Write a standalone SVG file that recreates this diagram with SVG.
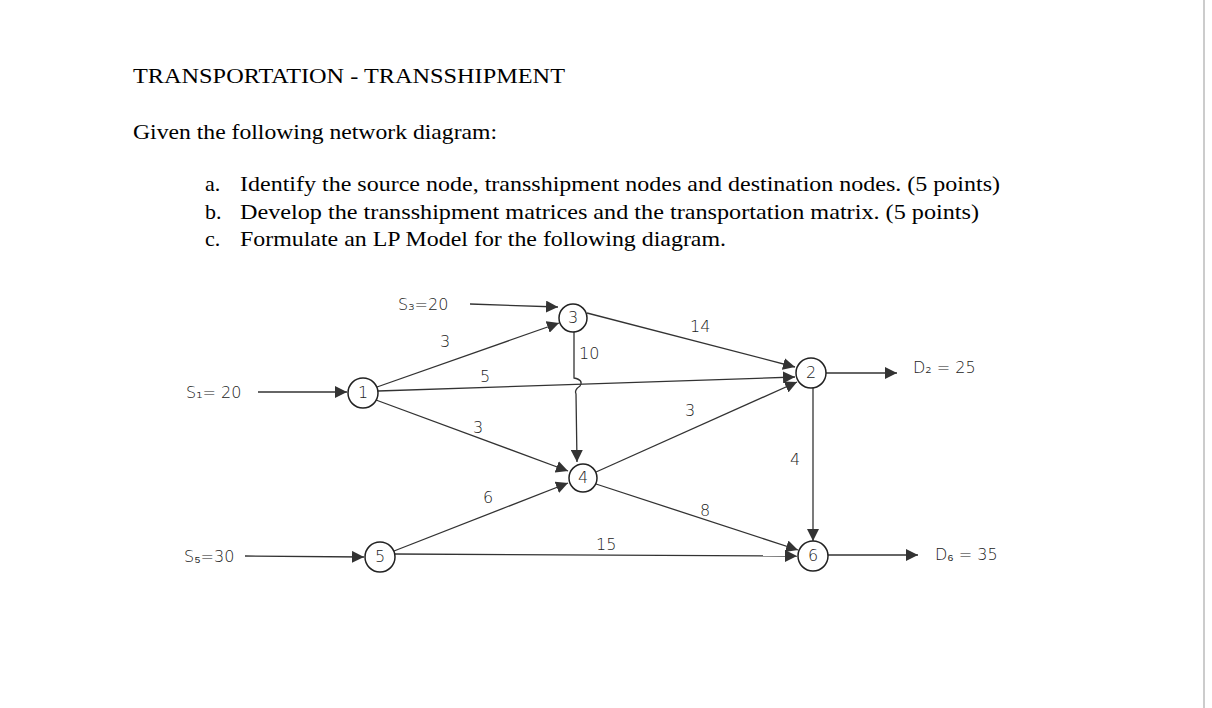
<svg xmlns="http://www.w3.org/2000/svg" width="1212" height="708" viewBox="0 0 1212 708">
<defs>
<style>
.t{font-family:"Liberation Serif",serif;font-size:22px;fill:#000}
.h{font-family:"DejaVu Sans",sans-serif;font-size:16px;fill:#222;font-weight:300}
.e{stroke:#333;stroke-width:1.3;fill:none}
.n{fill:#fff;stroke:#222;stroke-width:1.5}
</style>
<marker id="a" viewBox="0 0 10 10" refX="10" refY="5" markerWidth="12" markerHeight="12" markerUnits="userSpaceOnUse" orient="auto"><path d="M0,0 L10,5 L0,10 Z" fill="#333"/></marker>
</defs>
<rect width="1212" height="708" fill="#fff"/>
<line x1="1204" y1="0" x2="1204" y2="708" stroke="#ccc" stroke-width="2"/>
<text class="t" x="133" y="83" textLength="432" lengthAdjust="spacingAndGlyphs">TRANSPORTATION - TRANSSHIPMENT</text>
<text class="t" x="133" y="139" textLength="364" lengthAdjust="spacingAndGlyphs">Given the following network diagram:</text>
<text class="t" x="205" y="191">a.</text><text class="t" x="240" y="191" textLength="760" lengthAdjust="spacingAndGlyphs">Identify the source node, transshipment nodes and destination nodes. (5 points)</text>
<text class="t" x="205" y="219">b.</text><text class="t" x="240" y="219" textLength="739" lengthAdjust="spacingAndGlyphs">Develop the transshipment matrices and the transportation matrix.  (5 points)</text>
<text class="t" x="205" y="246">c.</text><text class="t" x="240" y="246" textLength="486" lengthAdjust="spacingAndGlyphs">Formulate an LP Model for the following diagram.</text>
<g id="connectors">
<line class="e" x1="470" y1="304" x2="558" y2="307" marker-end="url(#a)"/>
<line class="e" x1="258" y1="392" x2="347" y2="392" marker-end="url(#a)"/>
<line class="e" x1="245" y1="556" x2="364" y2="557" marker-end="url(#a)"/>
<line class="e" x1="377" y1="387" x2="559" y2="323" marker-end="url(#a)"/>
<line class="e" x1="378" y1="391" x2="795" y2="377" marker-end="url(#a)"/>
<line class="e" x1="376" y1="400" x2="568" y2="471" marker-end="url(#a)"/>
<line class="e" x1="394" y1="551" x2="568" y2="483" marker-end="url(#a)"/>
<path class="e" d="M574,332 L574,378 Q584,380 580,386 Q574,390 576,394 L577,462" marker-end="url(#a)"/>
<line class="e" x1="587" y1="313" x2="795" y2="367" marker-end="url(#a)"/>
<line class="e" x1="596" y1="472" x2="797" y2="382" marker-end="url(#a)"/>
<line class="e" x1="596" y1="484" x2="798" y2="550" marker-end="url(#a)"/>
<line class="e" x1="394" y1="554" x2="797" y2="556" marker-end="url(#a)"/>
<line class="e" x1="813" y1="388" x2="813" y2="541" marker-end="url(#a)"/>
<line class="e" x1="826" y1="373" x2="897" y2="373" marker-end="url(#a)"/>
<line class="e" x1="828" y1="555" x2="918" y2="555" marker-end="url(#a)"/>
</g>
<g id="labels">
<text class="h" x="398" y="310">S₃=20</text>
<text class="h" x="186" y="398">S₁= 20</text>
<text class="h" x="184" y="562">S₅=30</text>
<text class="h" x="913" y="373">D₂ = 25</text>
<text class="h" x="935" y="560">D₆  = 35</text>
<text class="h" x="440" y="347">3</text>
<text class="h" x="480" y="382">5</text>
<text class="h" x="579" y="359" font-size="12">10</text>
<text class="h" x="690" y="332">14</text>
<text class="h" x="473" y="433">3</text>
<text class="h" x="685" y="416">3</text>
<text class="h" x="790" y="465">4</text>
<text class="h" x="483" y="503" font-size="12">6</text>
<text class="h" x="700" y="516">8</text>
<text class="h" x="596" y="550" font-size="13">15</text>
</g>
<g id="node1"><circle class="n" cx="363" cy="393" r="15"/><text class="h" x="363" y="398" text-anchor="middle">1</text></g>
<g id="node2"><circle class="n" cx="811" cy="373" r="15"/><text class="h" x="811" y="378" text-anchor="middle">2</text></g>
<g id="node3"><circle class="n" cx="573" cy="318" r="14"/><text class="h" x="573" y="323" text-anchor="middle">3</text></g>
<g id="node4"><circle class="n" cx="583" cy="478" r="14"/><text class="h" x="583" y="483" text-anchor="middle">4</text></g>
<g id="node5"><circle class="n" cx="380" cy="557" r="15"/><text class="h" x="380" y="562" text-anchor="middle">5</text></g>
<g id="node6"><circle class="n" cx="813" cy="556" r="15"/><text class="h" x="813" y="561" text-anchor="middle">6</text></g>
</svg>
